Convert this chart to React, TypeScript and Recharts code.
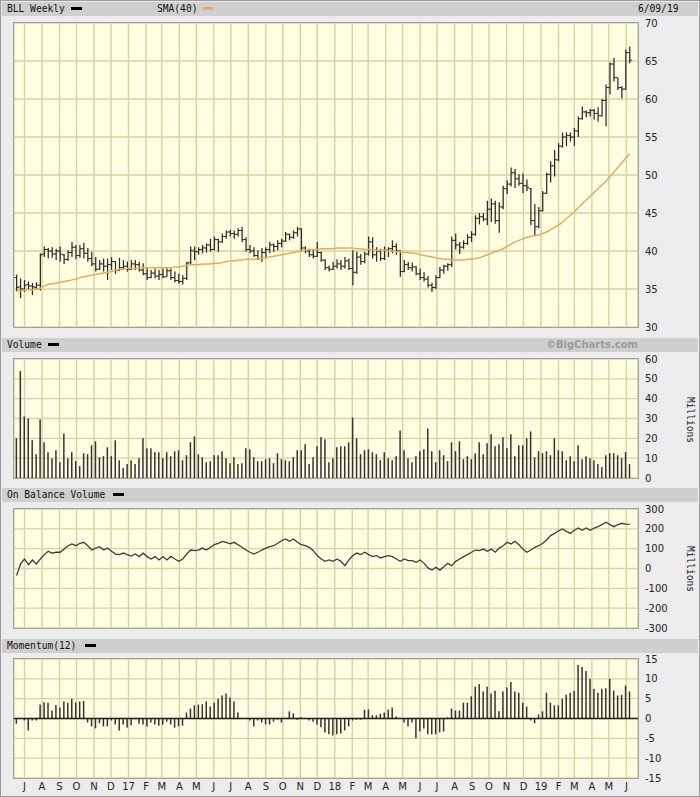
import React from 'react';
import { ComposedChart, Bar, Line, XAxis, YAxis, CartesianGrid, ReferenceLine } from 'recharts';

// ---------- categories / ticks ----------
const firstWeekUTC = Date.UTC(2016, 5, 17); // first weekly bar (Friday)
const axisStartUTC = Date.UTC(2016, 6, 1);
const DAY_MS = 86400000;

const monthLabels = ['J','A','S','O','N','D','17','F','M','A','M','J','J','A','S','O','N','D','18','F','M','A','M','J','J','A','S','O','N','D','19','F','M','A','M','J'];
const priceTicks = [30, 35, 40, 45, 50, 55, 60, 65, 70];
const volumeTicks = [0, 10, 20, 30, 40, 50, 60];
const obvTicks = [-300, -200, -100, 0, 100, 200, 300];
const momentumTicks = [-15, -10, -5, 0, 5, 10, 15];

// ---------- series (weekly) ----------
const openPrices = [36.5,35.3,35.0,35.6,35.4,35.2,35.5,39.6,40.2,40.0, 39.6,40.0,39.5,38.9,39.8,40.5,39.4,40.3,39.7,39.0, 38.3,37.6,38.3,38.0,38.2,38.6,37.5,37.8,38.0,37.6, 38.3,38.2,37.5,37.0,36.5,37.1,36.7,36.9,36.6,37.4, 36.5,36.1,36.0,36.4,38.5,40.0,39.9,40.2,40.4,40.8, 40.2,41.5,41.2,41.9,42.5,42.3,42.2,42.7,41.5,40.2, 40.0,39.4,39.0,39.8,40.2,40.8,40.6,41.0,41.3,42.2, 41.8,42.4,42.9,40.4,40.0,39.5,39.3,39.8,38.8,37.8, 37.6,38.0,38.3,38.0,38.7,37.7,37.2,39.2,38.6,39.6, 41.2,39.5,40.0,39.0,40.1,40.3,40.6,40.0,37.3,38.2, 37.8,37.9,37.0,36.5,36.3,35.5,35.2,36.5,37.5,38.0, 38.2,41.4,40.8,40.5,41.0,41.8,42.2,44.3,44.5,44.2, 45.5,46.2,44.0,45.8,48.2,48.8,50.3,49.5,48.9,48.6, 48.2,44.0,43.2,45.3,47.6,50.1,51.2,52.0,53.8,55.0, 55.2,55.0,55.8,57.4,58.3,58.2,58.5,58.1,57.8,59.8, 61.5,64.6,62.8,61.5,61.3,66.1];
const highPrices = [36.9,36.4,36.2,36.0,35.8,35.9,39.7,40.6,40.4,40.5, 40.3,40.6,39.6,40.1,41.2,40.8,40.8,41.1,40.4,39.9, 39.2,38.8,39.0,39.0,39.2,38.7,39.1,38.8,38.6,38.8, 38.8,38.6,38.4,37.9,37.5,37.7,37.5,37.7,37.9,37.7, 37.3,37.0,36.8,38.6,40.6,40.6,40.5,40.8,41.0,41.6, 41.9,41.6,42.3,42.7,42.8,42.7,43.0,43.2,41.8,40.8, 40.5,40.1,40.4,40.5,41.2,41.0,41.4,41.6,42.5,42.3, 42.7,43.2,43.0,40.6,40.3,40.1,41.2,39.9,38.9,38.1, 38.6,38.9,38.8,39.2,39.0,40.1,39.9,39.6,39.9,41.9, 41.8,40.5,40.3,40.6,40.5,41.4,41.0,40.1,38.8,38.6, 38.5,38.0,37.7,37.2,36.7,35.8,36.8,37.9,38.2,38.4, 41.9,42.3,41.2,41.4,42.2,42.6,44.7,45.0,45.0,46.6, 46.9,46.6,46.4,48.6,49.3,51.0,50.8,50.1,50.2,49.4, 48.3,46.2,45.8,47.9,50.3,51.8,53.3,54.2,55.6,55.6, 55.6,56.2,57.7,59.0,58.5,58.7,58.7,58.9,60.0,61.9, 64.8,65.4,62.8,61.7,66.5,66.9];
const lowPrices = [34.7,33.8,34.6,34.9,34.2,34.9,34.8,39.2,39.0,39.1, 38.8,38.6,38.3,38.7,39.2,38.9,39.1,39.0,38.6,38.0, 37.3,37.5,37.3,36.2,37.5,37.0,37.4,37.5,37.3,37.5, 37.5,37.3,36.8,36.2,36.4,36.4,36.2,36.4,36.6,36.2, 35.9,35.7,35.6,36.2,38.3,38.8,39.5,39.7,39.8,39.9, 40.1,39.9,41.1,41.6,41.9,41.6,41.9,41.2,39.9,39.7, 39.2,38.8,38.6,39.2,39.7,39.9,40.1,40.5,41.2,41.4, 41.6,41.9,39.9,39.7,39.2,39.0,39.2,38.6,37.5,37.3, 37.5,37.7,37.5,37.7,37.5,35.5,37.0,38.2,38.4,39.4, 39.0,38.6,38.7,38.8,39.2,39.7,39.5,36.6,37.2,37.5, 37.3,36.8,36.2,36.0,35.2,34.6,35.0,36.4,37.0,37.4, 37.9,40.2,39.6,40.3,40.8,41.2,42.0,43.5,43.9,43.4, 43.8,43.6,42.4,45.5,47.5,48.5,48.3,48.6,47.6,47.9, 43.4,42.0,43.0,45.2,47.5,49.0,49.8,51.8,53.6,53.8, 54.4,53.8,55.0,57.3,57.6,57.7,57.3,57.0,57.7,56.4, 60.6,62.3,61.2,60.1,61.2,64.7];
const closePrices = [35.2,35.0,35.5,35.4,35.3,35.5,39.5,40.2,40.0,39.6, 40.0,39.6,38.9,39.8,40.5,39.4,40.3,39.7,39.0,38.3, 37.6,38.3,38.0,38.2,38.6,37.5,37.8,38.0,37.6,38.3, 38.2,37.5,37.0,36.5,37.1,36.7,36.9,36.6,37.4,36.5, 36.1,36.0,36.4,38.4,40.1,39.9,40.2,40.4,40.8,40.2, 41.5,41.2,41.9,42.5,42.3,42.2,42.7,41.5,40.2,40.0, 39.4,39.0,39.8,40.2,40.8,40.6,41.0,41.3,42.2,41.8, 42.4,42.9,40.4,40.0,39.5,39.3,39.8,38.8,37.8,37.6, 38.0,38.3,38.0,38.7,37.7,37.2,39.2,38.6,39.6,41.2, 39.5,40.0,39.0,40.1,40.3,40.6,40.0,37.3,38.2,37.8, 37.9,37.0,36.5,36.3,35.5,35.2,36.5,37.5,38.0,38.2, 41.4,40.8,40.5,41.0,41.8,42.2,44.3,44.5,44.2,45.5, 46.2,44.0,45.8,48.2,48.8,50.3,49.5,48.9,48.6,48.4, 44.0,43.2,45.3,47.6,50.1,51.2,52.0,53.8,55.0,55.2, 55.0,55.8,57.4,58.3,58.2,58.5,58.1,57.8,59.8,61.5, 64.6,62.8,61.5,61.3,66.1,65.1];
const sma40 = [34.8,34.8,34.85,34.9,34.9,35.0,35.1,35.4,35.6,35.7, 35.8,35.9,36.0,36.1,36.2,36.3,36.5,36.6,36.7,36.8, 36.9,37.0,37.1,37.2,37.3,37.5,37.6,37.6,37.7,37.7, 37.7,37.8,37.8,37.8,37.8,37.8,37.8,37.8,37.8,37.8, 37.9,37.9,38.0,38.1,38.2,38.2,38.2,38.3,38.3,38.3, 38.4,38.4,38.5,38.6,38.7,38.7,38.8,38.8,38.9,38.9, 38.9,39.0,39.0,39.1,39.2,39.3,39.4,39.5,39.6,39.7, 39.8,39.9,40.0,40.1,40.2,40.2,40.2,40.3,40.3,40.3, 40.3,40.4,40.4,40.4,40.4,40.4,40.3,40.3,40.2,40.2, 40.2,40.1,40.1,40.1,40.0,40.0,39.9,39.9,39.8,39.8, 39.7,39.7,39.5,39.4,39.3,39.2,39.1,39.0,38.9,38.9, 38.85,38.8,38.8,38.8,38.9,38.9,39.0,39.1,39.3,39.5, 39.7,39.9,40.1,40.3,40.6,40.9,41.2,41.4,41.6,41.8, 41.9,42.0,42.1,42.3,42.5,42.8,43.1,43.4,43.8,44.3, 44.7,45.2,45.7,46.2,46.7,47.2,47.7,48.2,48.7,49.2, 49.8,50.4,51.0,51.6,52.2,52.8];
const volumeM = [20,54,31,30,19,12,29.5,18,13,10, 14,8,22.5,10,13,8.5,6,12.5,12,16.5, 18.5,10.5,11,15.5,11,19,9,5,7,9, 7,10,20,15,15,13,13,10,13,11, 13.5,14,9,11.5,18,21,12,10.5,8,8.5, 11.5,11.5,13.5,10,7.5,10.5,7,7.5,15,14.5, 10.5,8.5,8.5,9.5,10,7.5,12.5,9.5,9,8.5, 10.5,14,14,17,7,10.5,16,20.5,19.5,8, 10,15.5,16,16,18,30.5,20,12,14,14.5, 13,12,9,13,10,9,11,24,14,10, 8,11,13.5,14.5,25,13.5,8,14,11.5,8.5, 18,13.5,18.5,9.5,11,9.5,12.5,18,12,17.5, 22,16,17,20.5,15,22,11,16.5,16.5,20, 23.5,10.5,13.5,12.5,13.5,11.5,20,14,13.5,9, 11,8.5,16.5,9.5,11,10,9,7,5.5,11.5, 12.5,12.5,11.5,10,13,7];
const obvM = [-36,23,48,19,43,23,48,70,87,77, 82,82,98,115,124,115,127,132,115,93, 103,110,93,103,87,73,70,78,70,63, 73,60,77,60,48,60,43,60,43,61, 48,36,48,73,93,90,93,103,93,107, 120,127,137,132,124,132,120,107,93,82, 73,82,93,103,110,115,127,140,149,137, 149,132,120,115,107,90,65,48,36,43, 36,48,36,14,43,65,78,70,82,70, 60,65,53,60,65,60,48,36,48,40, 40,31,43,26,3,-8,6,-8,9,26, 14,36,48,60,70,82,93,90,98,87, 98,82,103,115,132,124,137,120,98,82, 93,107,115,127,144,166,177,190,199,187, 177,193,204,193,204,193,204,211,221,233, 221,211,221,228,224,222];
const momentum12 = [-1.3,0,-0.5,-3,-0.5,-0.5,3.5,4.1,4,2, 3.4,2.8,4.3,4,5,4,4.3,4.4,-1,-2, -2.5,-1.2,-2,-2,-0.5,-1.5,-3,-1.5,-2.3,-1.7, -0.2,-1.3,-1.5,-2,-1,-1.5,-1.8,-1.5,-0.8,-1.5, -2.3,-2,-1.8,1.5,2.5,3.3,3.5,3.6,4.3,3, 4,5,5.8,6.3,5.3,4.3,1.5,0.1,0,-0.5, -2,-0.5,-1,-1.5,-1.5,-0.8,-0.3,-1,0.1,1.8, 1.3,-0.3,0.3,0,-0.5,-0.8,-1.5,-2.2,-3.5,-4, -4.3,-4,-3.8,-3,-2,-0.5,-0.3,-0.3,2.2,2.3, 0.8,0.8,1.2,1.5,2.3,2.8,0.5,0,-1,-2, -1,-5,-3.2,-2.5,-4,-4,-4,-3.5,-3.3,0.3, 2.5,2,2,4,4,5.6,8,8.7,6.8,8, 6.3,7,1.8,6.8,7.8,9.2,6.8,6.5,4,3, -0.5,-1.2,1,1.8,6.5,4,3.3,3.3,5,6, 6.5,7,13.5,13,12,10,7.5,6.5,7.5,7.6, 10,7,5.8,6,8.3,6.8];

// ---------- derived tables ----------
const monthTicks = monthLabels.map((_, k) => (Date.UTC(2016, 6 + k, 1) - axisStartUTC) / DAY_MS);
const firstDay = (firstWeekUTC - axisStartUTC) / DAY_MS;
const rows = closePrices.map((c, i) => ({
  t: firstDay + 7 * i,
  o: openPrices[i], h: highPrices[i], l: lowPrices[i], c,
  hl: [lowPrices[i], highPrices[i]],
  sma: sma40[i], vol: volumeM[i], obv: obvM[i], mom: momentum12[i],
}));

// ---------- styles ----------
const X_DOMAIN: [number, number] = [-18.6, 1085.6];
const PAGE_BG = '#ececec';
const STRIP_BG = '#cfcfcf';
const PLOT_BG = '#fffee3';
const GRID = '#d6d39d';
const INK = '#2a2a2a';
const SMA_COLOR = '#e2ae5e';
const MONO = '"DejaVu Sans Mono", monospace';
const SANS = '"DejaVu Sans", sans-serif';
const tickStyle = { fontSize: 10, fill: '#222', fontFamily: SANS };

const OhlcBar = (props: any) => {
  const { x, y, width, height, payload } = props;
  if (x == null || y == null || !payload) return null;
  const top = Math.min(y, y + height);
  const bottom = Math.max(y, y + height);
  const cx = x + width / 2;
  const span = payload.h - payload.l || 1;
  const yOf = (v: number) => top + ((bottom - top) * (payload.h - v)) / span;
  return (
    <g>
      <line x1={cx} x2={cx} y1={top} y2={bottom} stroke={INK} strokeWidth={1.25} />
      <line x1={cx - 2.2} x2={cx} y1={yOf(payload.o)} y2={yOf(payload.o)} stroke={INK} strokeWidth={1} />
      <line x1={cx} x2={cx + 2.2} y1={yOf(payload.c)} y2={yOf(payload.c)} stroke={INK} strokeWidth={1} />
    </g>
  );
};

const PLOT_L = 14;
const PLOT_R = 638;

const abs = (left: number, top: number, extra: any = {}) => ({ position: 'absolute' as const, left, top, ...extra });

const Frame = ({ top, bottom }: { top: number; bottom: number }) => (
  <div style={abs(PLOT_L - 1, top - 1, { width: PLOT_R - PLOT_L, height: bottom - top, border: '1px solid #a2a2a2', pointerEvents: 'none' })} />
);

const Strip = ({ top }: { top: number }) => (
  <div style={abs(2, top, { width: 696, height: 14, background: STRIP_BG })} />
);

const HeaderText = ({ left, top, text, color = '#111' }: any) => (
  <div style={abs(left, top, { height: 14, lineHeight: '14px', fontFamily: MONO, fontSize: 9.6, color, whiteSpace: 'nowrap' })}>{text}</div>
);

const Dash = ({ left, top, color = '#000', w = 11 }: any) => (
  <div style={abs(left, top + 5, { width: w, height: 3, background: color })} />
);

const Millions = ({ cy }: { cy: number }) => (
  <div style={abs(690, cy, { transform: 'translate(-50%, -50%) rotate(90deg)', fontFamily: MONO, fontSize: 9.6, color: '#222', whiteSpace: 'nowrap' })}>Millions</div>
);

const blankLabel = () => '';

const hiddenX = (
  <XAxis dataKey="t" type="number" domain={X_DOMAIN} ticks={monthTicks} allowDataOverflow interval={0} height={0}
    tickFormatter={blankLabel} tick={{ fontSize: 1, fill: 'none' }} axisLine={false} tickLine={false} tickSize={0} />
);

const rightY = (domain: [number, number], ticks: number[]) => (
  <YAxis orientation="right" domain={domain} ticks={ticks} allowDataOverflow interval={0} width={62} tickSize={0} tickMargin={7} axisLine={false} tickLine={false} tick={tickStyle} />
);

export default function App() {
  return (
    <div style={abs(0, 0, { width: 700, height: 797, background: PAGE_BG, overflow: 'hidden', fontFamily: SANS })}>
      <div style={abs(0, 0, { width: 698, height: 795, border: '1px solid #9c9c9c' })} />

      {/* header strips */}
      <Strip top={2} />
      <HeaderText left={7} top={2} text="BLL Weekly" />
      <Dash left={71} top={2} />
      <HeaderText left={157} top={2} text="SMA(40)" />
      <Dash left={203} top={2} color={SMA_COLOR} w={10} />
      <HeaderText left={638} top={2} text="6/09/19" />

      <Strip top={338} />
      <HeaderText left={7} top={338} text="Volume" />
      <Dash left={48} top={338} />
      <div style={abs(0, 338, { width: 638, height: 14, lineHeight: '14px', textAlign: 'right', fontFamily: SANS, fontWeight: 'bold', fontSize: 10, color: '#9a9a9a' })}>©BigCharts.com</div>

      <Strip top={488} />
      <HeaderText left={7} top={488} text="On Balance Volume" />
      <Dash left={113} top={488} />

      <Strip top={639} />
      <HeaderText left={7} top={639} text="Momentum(12)" />
      <Dash left={85} top={639} />

      {/* price panel */}
      <div style={abs(0, 0)}>
        <ComposedChart width={700} height={335} data={rows} margin={{ top: 23, right: 0, bottom: 8, left: 14 }}>
          <CartesianGrid stroke={GRID} strokeWidth={1.4} fill={PLOT_BG} fillOpacity={1} />
          {hiddenX}
          {rightY([30, 70], priceTicks)}
          <Line type="linear" dataKey="sma" stroke={SMA_COLOR} strokeWidth={1.5} dot={false} activeDot={false} isAnimationActive={false} />
          <Bar dataKey="hl" barSize={2} shape={OhlcBar} isAnimationActive={false} />
        </ComposedChart>
      </div>
      <Frame top={23} bottom={327} />

      {/* volume panel */}
      <div style={abs(0, 355)}>
        <ComposedChart width={700} height={128} data={rows} margin={{ top: 4, right: 0, bottom: 5, left: 14 }}>
          <CartesianGrid stroke={GRID} strokeWidth={1.4} fill={PLOT_BG} fillOpacity={1} />
          {hiddenX}
          {rightY([0, 60], volumeTicks)}
          <Bar dataKey="vol" barSize={1.5} fill="#333" isAnimationActive={false} />
        </ComposedChart>
      </div>
      <Frame top={359} bottom={478} />
      <Millions cy={420} />

      {/* OBV panel */}
      <div style={abs(0, 505)}>
        <ComposedChart width={700} height={128} data={rows} margin={{ top: 4, right: 0, bottom: 5, left: 14 }}>
          <CartesianGrid stroke={GRID} strokeWidth={1.4} fill={PLOT_BG} fillOpacity={1} />
          {hiddenX}
          {rightY([-300, 300], obvTicks)}
          <Line type="linear" dataKey="obv" stroke="#3c3c3c" strokeWidth={1.3} dot={false} activeDot={false} isAnimationActive={false} />
        </ComposedChart>
      </div>
      <Frame top={509} bottom={628} />
      <Millions cy={569} />

      {/* momentum panel */}
      <div style={abs(0, 655)}>
        <ComposedChart width={700} height={142} data={rows} margin={{ top: 4, right: 0, bottom: 0, left: 14 }}>
          <CartesianGrid stroke={GRID} strokeWidth={1.4} fill={PLOT_BG} fillOpacity={1} />
          <XAxis
            dataKey="t" type="number" domain={X_DOMAIN} ticks={monthTicks} allowDataOverflow interval={0}
            height={19} tickSize={0} tickMargin={5} axisLine={false} tickLine={false} tick={tickStyle}
            tickFormatter={(v: number) => monthLabels[monthTicks.indexOf(v)] ?? ''}
          />
          {rightY([-15, 15], momentumTicks)}
          <ReferenceLine y={0} stroke="#222" strokeWidth={1.6} />
          <Bar dataKey="mom" barSize={1.5} fill="#333" isAnimationActive={false} />
        </ComposedChart>
      </div>
      <Frame top={659} bottom={778} />
    </div>
  );
}
